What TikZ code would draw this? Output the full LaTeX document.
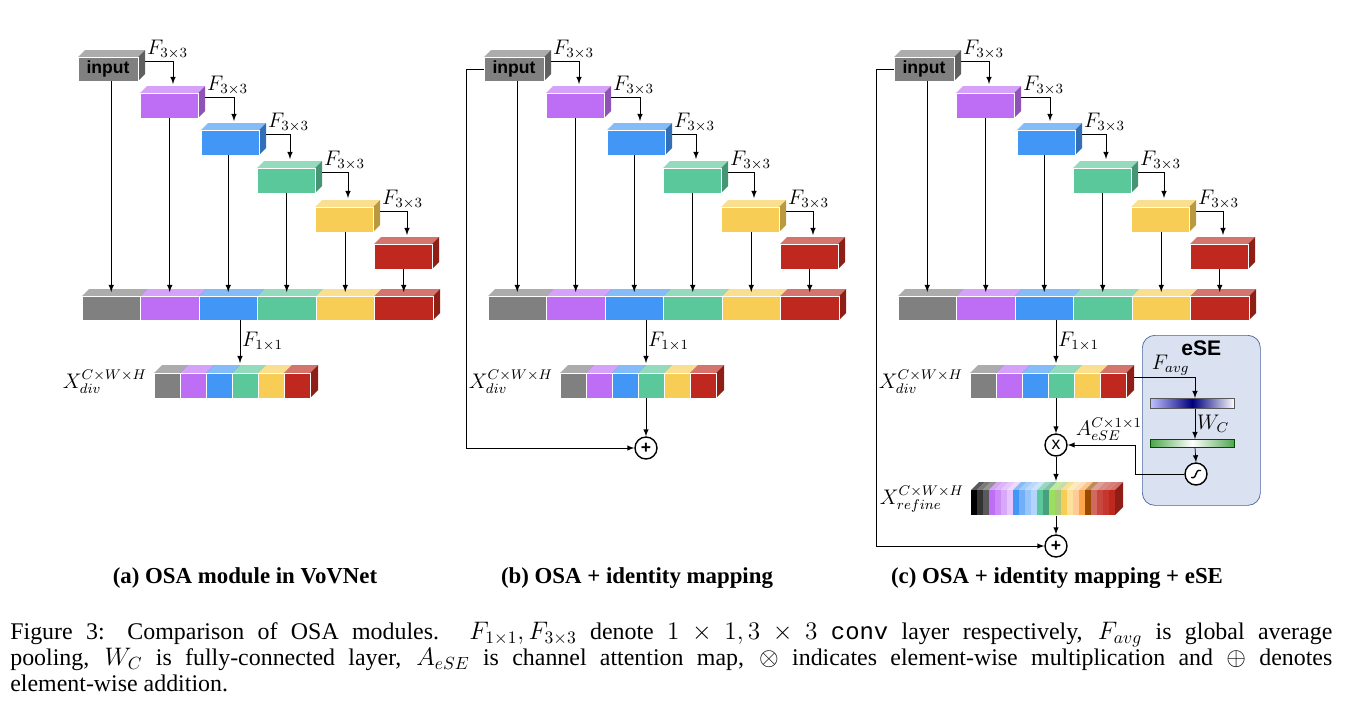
\documentclass[tikz,border=0pt]{standalone}
\usepackage{fontspec}
\setmainfont{Liberation Serif}
\setsansfont{Liberation Sans}
\setmonofont{Liberation Mono}
\usetikzlibrary{calc}
\definecolor{osaGray}{RGB}{128,128,128}
\definecolor{osaPurple}{RGB}{190,110,245}
\definecolor{osaBlue}{RGB}{66,150,245}
\definecolor{osaGreen}{RGB}{90,200,155}
\definecolor{osaYellow}{RGB}{248,205,85}
\definecolor{osaRed}{RGB}{190,40,30}
\definecolor{eseFill}{RGB}{218,225,240}
\definecolor{eseLine}{RGB}{70,100,160}

% block with top and side faces: name, x, y (front top left), w, h, colour, depth
\newcommand{\blk}[7]{%
  \fill[#6!65!white] (#2,#3) -- ++(#7,-#7) -- ++(#4,0) -- ++(-#7,#7) -- cycle;
  \fill[#6!75!black] (#2+#4,#3) -- ++(#7,-#7) -- ++(0,#5) -- ++(-#7,#7) -- cycle;
  \node[blkface,fill=#6,minimum width=#4*0.02cm,minimum height=#5*0.02cm,anchor=north west] (#1) at (#2,#3) {};
}

\tikzset{
  blkface/.style={draw=white,line width=0.4pt,inner sep=0pt,outer sep=0pt},
  arr/.style={->,>=latex,thin},
  flab/.style={font=\fontsize{12}{13}\selectfont,inner sep=1pt},
  opcirc/.style={circle,draw,thick,fill=white,minimum size=0.44cm,inner sep=0pt,font=\sffamily\bfseries}
}

\begin{document}
\begin{tikzpicture}[x=0.02cm,y=-0.02cm]
\useasboundingbox (0,0) rectangle (1346,718);

% three panels share the OSA part
\foreach \p/\dx in {a/0,b/406,c/816}{
  \begin{scope}[xshift=\dx*0.02cm]
    \blk{\p-in}{78}{57}{60}{24}{osaGray}{7}
    \node[font=\sffamily\bfseries\fontsize{10}{11}\selectfont] at (\p-in) {input};
    \blk{\p-l1}{140}{93}{58}{25}{osaPurple}{7}
    \blk{\p-l2}{201}{130}{58}{25}{osaBlue}{7}
    \blk{\p-l3}{257}{168}{58}{25}{osaGreen}{7}
    \blk{\p-l4}{315}{207}{58}{25}{osaYellow}{7}
    \blk{\p-l5}{374}{244}{58}{25}{osaRed}{7}

    % concatenated features
    \foreach \c [count=\k from 0] in {osaGray,osaPurple,osaBlue,osaGreen,osaYellow,osaRed}{
      \blk{\p-b\k}{82+58.5*\k}{296}{58.5}{24}{\c}{7}
    }
    \foreach \s [count=\k from 0] in {in,l1,l2,l3,l4,l5}
      \draw[arr] (\p-b\k.north |- \p-\s.south) -- ([yshift=0.08cm]\p-b\k.north);

    % 3x3 convs
    \foreach \s/\t in {in/l1,l1/l2,l2/l3,l3/l4,l4/l5}
      \draw[arr] ([xshift=0.14cm,yshift=-0.08cm]\p-\s.north east)
        node[above right,flab] {$F_{3\times3}$}
        -| ([xshift=0.08cm,yshift=0.18cm]\p-\t.north);

    % 1x1 conv output
    \foreach \c [count=\k from 0] in {osaGray,osaPurple,osaBlue,osaGreen,osaYellow,osaRed}{
      \blk{\p-x\k}{154+26*\k}{373}{26}{25}{\c}{8}
    }
    \coordinate (\p-mid) at (240,0);
    \draw[arr] (\p-b2.south -| \p-mid) -- ([yshift=0.2cm]\p-x3.north -| \p-mid)
      node[midway,right,flab] {$F_{1\times1}$};
    \node[flab,anchor=east] at ([xshift=-0.1cm,yshift=0.08cm]\p-x0.west) {$X_{div}^{C\times W\times H}$};
  \end{scope}
}

% (b) identity mapping
\node[opcirc] (b-plus) at (646,448) {+};
\draw[arr] (b-x3.south -| b-mid) -- (b-plus);
\coordinate (b-left) at (466,0);
\draw[arr] (b-in.west) -| (b-left |- b-plus) -- (b-plus.west);

% (c) eSE
\node[draw=eseLine,fill=eseFill,rounded corners=0.25cm,minimum width=118*0.02cm,minimum height=170*0.02cm,anchor=north west] (ese) at (1142,335) {};
\node[font=\sffamily\bfseries\large,below] at (ese.north) {eSE};
\node[draw=gray!70!black,inner sep=0pt,minimum width=84*0.02cm,minimum height=10*0.02cm,anchor=north west,
  left color=blue!25!white,right color=white,middle color=blue!50!black] (bar1) at (1150,398) {};
\node[draw=green!30!black,inner sep=0pt,minimum width=84*0.02cm,minimum height=8*0.02cm,anchor=north west,
  left color=green!50!black!70,right color=green!50!black!70,middle color=white] (bar2) at (1150,439) {};
\node[opcirc] (sig) at (1196,474) {};
\draw[thick] ([xshift=-0.1cm,yshift=-0.07cm]sig.center) .. controls ([xshift=0.05cm,yshift=-0.1cm]sig.center) and ([xshift=-0.05cm,yshift=0.1cm]sig.center) .. ([xshift=0.1cm,yshift=0.07cm]sig.center);

\coordinate (c-avg) at (1195,0);
\draw[arr] ([xshift=0.16cm,yshift=0.16cm]c-x5.east) -| (c-avg |- bar1.north)
  node[pos=0.3,above,flab] {$F_{avg}$};
\draw[arr] (c-avg |- bar1.south) -- (c-avg |- bar2.north) node[midway,right,flab] {$W_C$};
\draw[arr] (c-avg |- bar2.south) -- (sig.north);

\node[opcirc,font=\sffamily] (times) at (1056,445) {x};
\draw[arr] (c-x3.south -| c-mid) -- (times);
\coordinate (c-ret) at (1135,0);
\draw[arr] (sig.west) -| (c-ret |- times) -- (times.east);
\node[flab,anchor=south west] at ([xshift=0.12cm,yshift=0.04cm]times.east) {$A_{eSE}^{C\times1\times1}$};

% refined features
\foreach \c [count=\k from 0] in {black,black!80!white,black!65!white,osaPurple,osaPurple!80!white,osaPurple!60!white,osaPurple!40!white,osaBlue,osaBlue!75!white,osaBlue!55!white,osaBlue!40!white,osaGreen,osaGreen!80!black,osaGreen!60!yellow,osaGreen!50!osaYellow,osaYellow,osaYellow!60!white,orange!40!white,orange!70!white,orange!60!black,osaRed!70!white,osaRed!85!white,osaRed!90!pink,osaRed}{
  \fill[\c!65!white] (971+6*\k,490) -- ++(8,-8) -- ++(6,0) -- ++(-8,8) -- cycle;
  \fill[\c] (971+6*\k,490) rectangle ++(6,25);
}
\node[inner sep=0pt,minimum width=144*0.02cm,minimum height=25*0.02cm,anchor=north west] (refine) at (971,490) {};
\fill[osaRed!75!black] (1115,490) -- ++(8,-8) -- ++(0,25) -- ++(-8,8) -- cycle;
\node[flab,anchor=east] at ([xshift=-0.1cm,yshift=0.08cm]refine.west) {$X_{refine}^{C\times W\times H}$};
\draw[arr] (times.south) -- ([yshift=0.18cm]refine.north -| times);
\node[opcirc] (c-plus) at (1056,546) {+};
\draw[arr] (refine.south -| c-plus) -- (c-plus);
\coordinate (c-left) at (876,0);
\draw[arr] (c-in.west) -| (c-left |- c-plus) -- (c-plus.west);

% sub captions
\node[font=\fontsize{13}{15}\selectfont\bfseries] at (245,578) {(a) OSA module in VoVNet};
\node[font=\fontsize{13}{15}\selectfont\bfseries] at (637,578) {(b) OSA + identity mapping};
\node[font=\fontsize{13}{15}\selectfont\bfseries] at (1057,578) {(c) OSA + identity mapping + eSE};

% figure caption
\node[anchor=north west,text width=1322*0.02cm,align=justify,inner sep=0pt,font=\fontsize{13.6}{14.8}\selectfont] (cap) at (10,622)
{Figure 3: Comparison of OSA modules. $F_{1\times1}, F_{3\times3}$ denote $1\times1, 3\times3$ \texttt{conv} layer respectively, $F_{avg}$ is global average\linebreak
pooling, $W_C$ is fully-connected layer, $A_{eSE}$ is channel attention map, $\otimes$ indicates element-wise multiplication and $\oplus$ denotes\linebreak
element-wise addition.};
\end{tikzpicture}
\end{document}
